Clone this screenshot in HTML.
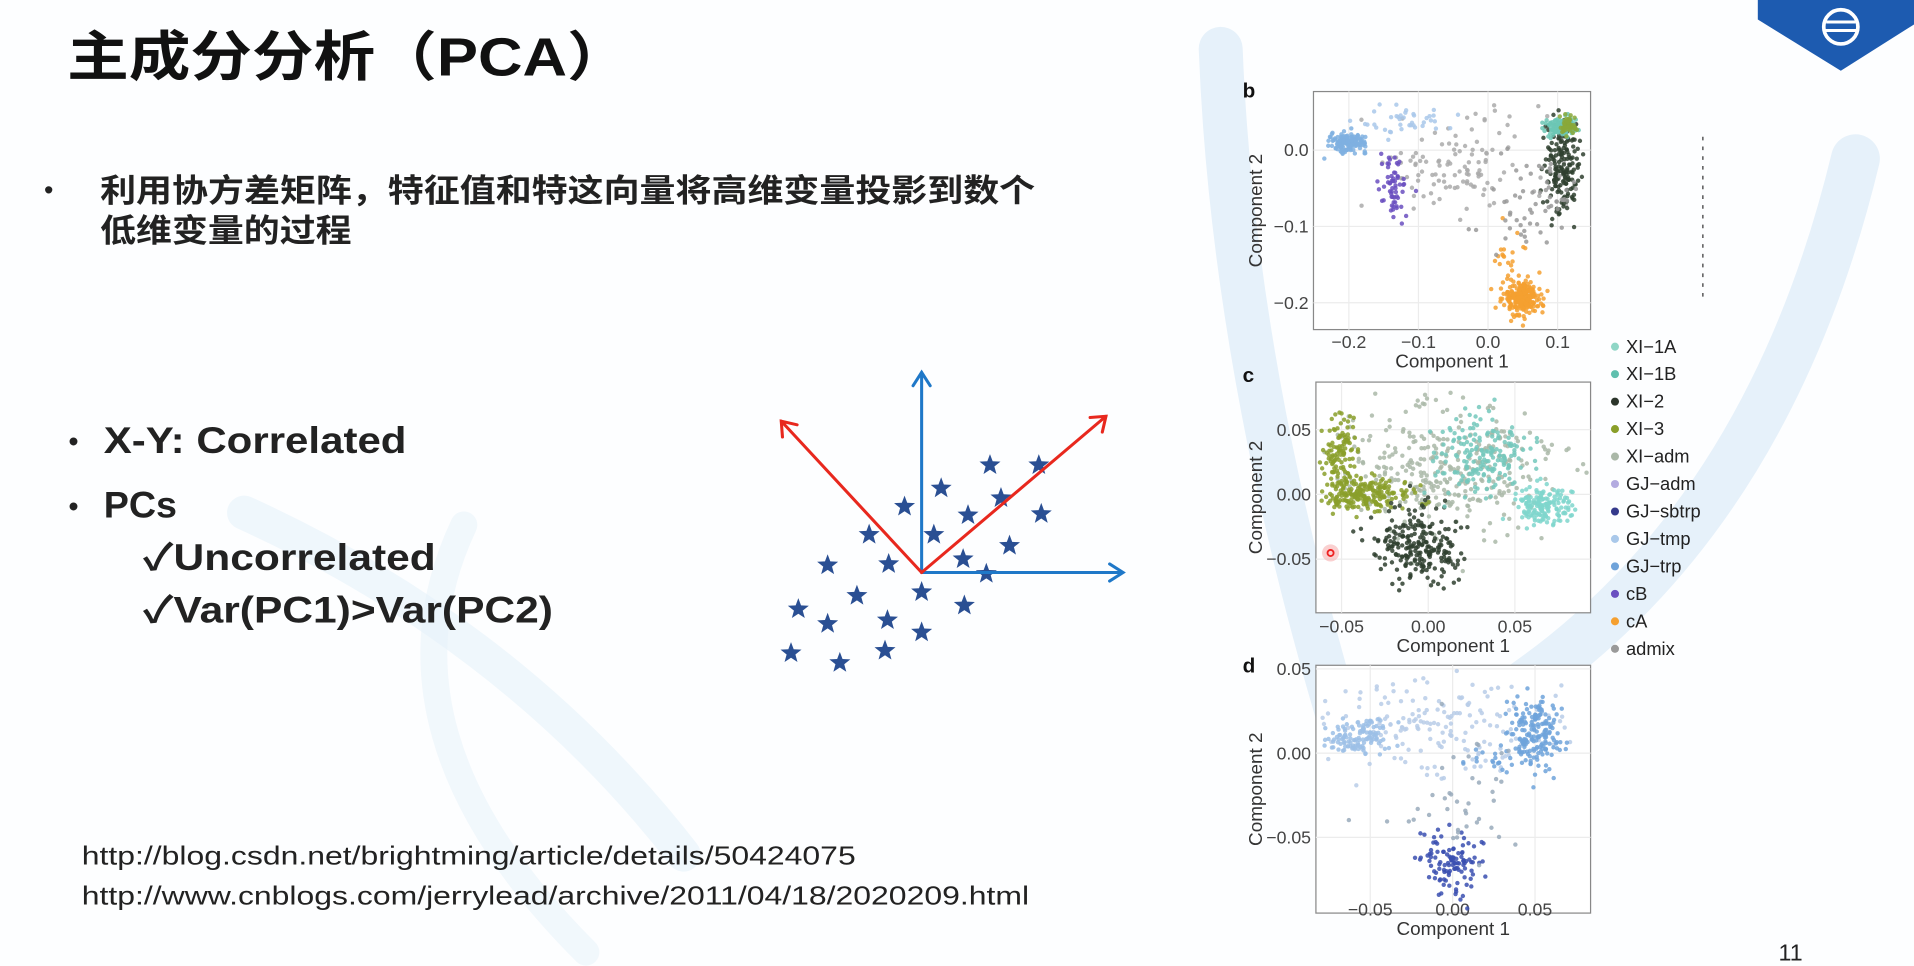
<!DOCTYPE html>
<html><head><meta charset="utf-8"><style>
html,body{margin:0;padding:0;background:#fff;}
svg{display:block}
text{font-family:"Liberation Sans","Noto Sans CJK SC",sans-serif;}
</style></head><body>
<svg id="s" width="1914" height="966" viewBox="0 0 1914 966" xmlns="http://www.w3.org/2000/svg">
<rect width="1914" height="966" fill="#fdfeff"/>
<g transform="scale(1.2207)">
<g fill="none" stroke="#e6f1fa" stroke-linecap="round">
<path d="M1000 40 Q1010 300 1100 600" stroke-width="36"/>
<path d="M1520 130 Q1450 420 1250 560" stroke-width="40"/>
<path d="M200 420 Q420 520 560 700" stroke-width="28" opacity="0.6"/>
<path d="M380 430 Q300 600 480 780" stroke-width="22" opacity="0.5"/>
</g>
<polygon points="1440,0 1568,0 1568,20 1508,58 1440,16" fill="#1d5bb0"/>
<circle cx="1508" cy="22" r="14" fill="none" stroke="#fff" stroke-width="3"/>
<path d="M1496 18 H1520 M1494 25 H1522" stroke="#fff" stroke-width="2.5"/>
<text x="55" y="62" font-size="44" font-weight="bold" fill="#111" textLength="460" lengthAdjust="spacingAndGlyphs">主成分分析（PCA）</text>
<text x="36" y="163" font-size="22" fill="#222">•</text>
<text x="82" y="165" font-size="26" font-weight="bold" fill="#222" textLength="766" lengthAdjust="spacingAndGlyphs">利用协方差矩阵，特征值和特这向量将高维变量投影到数个</text>
<text x="82" y="198" font-size="26" font-weight="bold" fill="#222" textLength="206" lengthAdjust="spacingAndGlyphs">低维变量的过程</text>
<text x="56" y="370" font-size="24" fill="#222">•</text>
<text x="85" y="371" font-size="30" font-weight="bold" fill="#222" textLength="248" lengthAdjust="spacingAndGlyphs">X-Y: Correlated</text>
<text x="56" y="423" font-size="24" fill="#222">•</text>
<text x="85" y="424" font-size="30" font-weight="bold" fill="#222" textLength="60" lengthAdjust="spacingAndGlyphs">PCs</text>
<text x="117" y="467" font-size="30" font-weight="bold" fill="#222" textLength="240" lengthAdjust="spacingAndGlyphs">✓Uncorrelated</text>
<text x="117" y="510" font-size="30" font-weight="bold" fill="#222" textLength="336" lengthAdjust="spacingAndGlyphs">✓Var(PC1)&gt;Var(PC2)</text>
<text x="67" y="708" font-size="21" fill="#222" textLength="634" lengthAdjust="spacingAndGlyphs">http://blog.csdn.net/brightming/article/details/50424075</text>
<text x="67" y="741" font-size="21" fill="#222" textLength="776" lengthAdjust="spacingAndGlyphs">http://www.cnblogs.com/jerrylead/archive/2011/04/18/2020209.html</text>
<text x="1457" y="787" font-size="19" fill="#222">11</text>
<g id="stars" fill="#2a4f93"></g>
<g stroke-width="2.5" fill="none" stroke-linecap="round">
<path d="M755 469 V305 M748 316 L755 305 L762 316" stroke="#1f78c8"/>
<path d="M755 469 H920 M909 462 L920 469 L909 476" stroke="#1f78c8"/>
<path d="M755 469 L640 345 M641 358 L640 345 L653 348" stroke="#e8281e"/>
<path d="M755 469 L906 341 M893 342 L906 341 L903 354" stroke="#e8281e"/>
</g>
<g id="plots"></g>
<g font-size="15" fill="#333">
<text x="1018" y="80" font-size="17" font-weight="bold" fill="#111">b</text>
<text x="1018" y="313" font-size="17" font-weight="bold" fill="#111">c</text>
<text x="1018" y="551" font-size="17" font-weight="bold" fill="#111">d</text>
</g>
<g stroke="#333" stroke-width="1" stroke-dasharray="3,5"><path d="M1395 112 V245"/></g>
<g id="legend" font-size="15" fill="#222"></g>
</g>
</svg>
<script>
var NS="http://www.w3.org/2000/svg";
function el(p,t,a,txt){var e=document.createElementNS(NS,t);for(var k in a)e.setAttribute(k,a[k]);if(txt!=null)e.textContent=txt;p.appendChild(e);return e;}
var seed=7;function rnd(){seed=(seed*16807)%2147483647;return seed/2147483647;}
function gauss(){var u=rnd()||1e-9,v=rnd();return Math.sqrt(-2*Math.log(u))*Math.cos(2*Math.PI*v);}
var st=document.getElementById('stars');
var S=[[811,381],[851,381],[771,400],[741,415],[820,408],[853,421],[712,438],[765,438],[793,422],[827,447],[678,463],[728,462],[789,458],[808,470],[702,488],[755,485],[790,496],[654,499],[678,511],[727,508],[755,518],[648,535],[688,543],[725,533]];
function star(cx,cy,r){var p=[];for(var i=0;i<10;i++){var a=-Math.PI/2+i*Math.PI/5,rr=i%2?r*0.42:r;p.push((cx+rr*Math.cos(a)).toFixed(1)+','+(cy+rr*Math.sin(a)).toFixed(1));}return p.join(' ');}
S.forEach(function(s){el(st,'polygon',{points:star(s[0],s[1],9)});});
var pl=document.getElementById('plots');
function panel(box,xt,yt,fx,fy,xlabBase,clusters){
 var g=el(pl,'g',{});
 el(g,'rect',{x:box[0],y:box[1],width:box[2]-box[0],height:box[3]-box[1],fill:'#fff',stroke:'#888','stroke-width':1});
 xt.forEach(function(t){var x=fx(t[0]);el(g,'line',{x1:x,x2:x,y1:box[1],y2:box[3],stroke:'#ececec'});el(g,'text',{x:x,y:xlabBase,'font-size':14.5,fill:'#444','text-anchor':'middle'},t[1]);});
 yt.forEach(function(t){var y=fy(t[0]);el(g,'line',{x1:box[0],x2:box[2],y1:y,y2:y,stroke:'#ececec'});el(g,'text',{x:box[0]-4,y:y+5,'font-size':14.5,fill:'#444','text-anchor':'end'},t[1]);});
 el(g,'text',{x:(box[0]+box[2])/2,y:xlabBase+16,'font-size':15.5,fill:'#333','text-anchor':'middle'},'Component 1');
 var cy=(box[1]+box[3])/2;
 el(g,'text',{x:1034,y:cy,'font-size':15.5,fill:'#333','text-anchor':'middle',transform:'rotate(-90 1034 '+cy+')'},'Component 2');
 clusters.forEach(function(c){for(var i=0;i<c.n;i++){var x=fx(c.x+gauss()*c.sx),y=fy(c.y+gauss()*c.sy);if(x<box[0]+3||x>box[2]-3||y<box[1]+3||y>box[3]-3)continue;el(g,'circle',{cx:x.toFixed(1),cy:y.toFixed(1),r:1.8,fill:c.c,opacity:0.85});}});
}
panel([1076,75,1303,270],[[-0.2,'−0.2'],[-0.1,'−0.1'],[0,'0.0'],[0.1,'0.1']],[[0,'0.0'],[-0.1,'−0.1'],[-0.2,'−0.2']],
 function(v){return 1219+v*570},function(v){return 123-v*625},285,[
 {x:-0.05,y:-0.02,sx:0.07,sy:0.035,n:120,c:'#aaa'},
 {x:-0.2,y:0.01,sx:0.013,sy:0.006,n:160,c:'#7fb0e0'},
 {x:-0.12,y:0.04,sx:0.04,sy:0.01,n:40,c:'#a9c8ea'},
 {x:-0.135,y:-0.05,sx:0.01,sy:0.02,n:60,c:'#6a4fc0'},
 {x:0.05,y:-0.195,sx:0.013,sy:0.011,n:220,c:'#f5a030'},
 {x:0.035,y:-0.16,sx:0.015,sy:0.025,n:40,c:'#f5a030'},
 {x:0.105,y:-0.02,sx:0.012,sy:0.03,n:170,c:'#2f3f2f'},
 {x:0.105,y:0.03,sx:0.012,sy:0.006,n:120,c:'#6cc7b5'},
 {x:0.115,y:0.032,sx:0.006,sy:0.005,n:60,c:'#8aa83a'},
 {x:0.06,y:-0.07,sx:0.03,sy:0.03,n:60,c:'#999'}]);
panel([1078,313,1303,502],[[-0.05,'−0.05'],[0,'0.00'],[0.05,'0.05']],[[0.05,'0.05'],[0,'0.00'],[-0.05,'−0.05']],
 function(v){return 1170+v*1420},function(v){return 405-v*1060},518,[
 {x:0.01,y:0.02,sx:0.03,sy:0.025,n:350,c:'#aab8a8'},
 {x:-0.05,y:0.03,sx:0.006,sy:0.015,n:120,c:'#8a9f2a'},
 {x:-0.035,y:0.0,sx:0.012,sy:0.006,n:200,c:'#8a9f2a'},
 {x:-0.005,y:-0.04,sx:0.012,sy:0.014,n:230,c:'#2f3f2f'},
 {x:0.03,y:0.03,sx:0.014,sy:0.015,n:180,c:'#74c8bc'},
 {x:0.065,y:-0.01,sx:0.008,sy:0.008,n:160,c:'#7fd6cc'}]);
panel([1078,545,1303,748],[[-0.05,'−0.05'],[0,'0.00'],[0.05,'0.05']],[[0.05,'0.05'],[0,'0.00'],[-0.05,'−0.05']],
 function(v){return 1190+v*1350},function(v){return 617-v*1380},750,[
 {x:-0.01,y:0.015,sx:0.04,sy:0.015,n:180,c:'#b9cde8'},
 {x:-0.06,y:0.01,sx:0.01,sy:0.006,n:120,c:'#9cc0e6'},
 {x:0.05,y:0.01,sx:0.008,sy:0.01,n:180,c:'#6fa3da'},
 {x:0.025,y:-0.005,sx:0.01,sy:0.003,n:20,c:'#6fa3da'},
 {x:0.0,y:-0.065,sx:0.008,sy:0.01,n:110,c:'#3a4fb0'},
 {x:0.0,y:-0.03,sx:0.02,sy:0.02,n:40,c:'#9ab'}]);
el(pl,'circle',{cx:1090,cy:453,r:7,fill:'#f6b0b0',opacity:0.6});
el(pl,'circle',{cx:1090,cy:453,r:2.5,fill:'none',stroke:'#e22','stroke-width':1.5});
var lg=document.getElementById('legend');
var L=[['XI−1A','#8fd6c6'],['XI−1B','#5fbfae'],['XI−2','#2b352b'],['XI−3','#8a9f2a'],['XI−adm','#aab8a8'],['GJ−adm','#b3abe0'],['GJ−sbtrp','#353a8c'],['GJ−tmp','#a9c8ea'],['GJ−trp','#6fa3da'],['cB','#6a4fc0'],['cA','#f5a030'],['admix','#9a9a9a']];
L.forEach(function(l,i){var y=289+i*22.5;el(lg,'circle',{cx:1323,cy:y-5,r:3.3,fill:l[1]});el(lg,'text',{x:1332,y:y},l[0]);});
</script>
</body></html>
